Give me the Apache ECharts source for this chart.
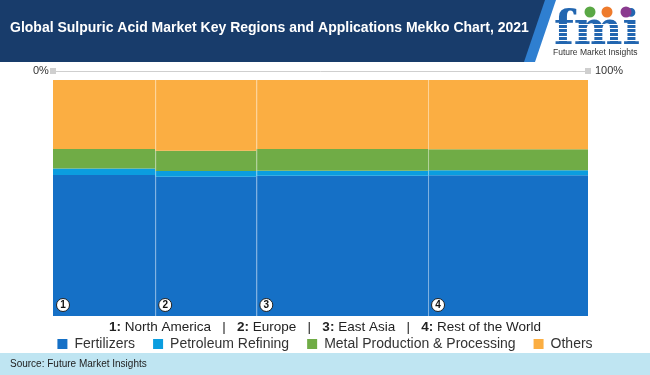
<!DOCTYPE html>
<html>
<head>
<meta charset="utf-8">
<style>
  html, body { margin: 0; padding: 0; background: #fff; }
  #chart { width: 650px; height: 375px; }
</style>
<script src="https://cdn.jsdelivr.net/npm/echarts@6/dist/echarts.min.js"></script>
</head>
<body>
<div id="chart"></div>
<script>
// regions along x (share of market, %)
const regions = ['North America', 'Europe', 'East Asia', 'Rest of the World']
const regionShare = [19.1, 18.9, 32.1, 29.9]

// applications, share inside each region (%), bottom to top
const appNames = ['Fertilizers', 'Petroleum Refining', 'Metal Production & Processing', 'Others']
const fertilizers = [59.7, 59.0, 59.4, 59.6]
const petroleum = [2.8, 2.4, 2.1, 2.2]
const metal = [8.3, 8.6, 9.3, 8.9]
const others = [29.2, 30.0, 29.2, 29.3]
const appColors = ['#1570c6', '#0b9ddf', '#70ac46', '#fbae42']

const appValues = [fertilizers, petroleum, metal, others]

const chartDom = document.getElementById('chart')
const myChart = echarts.init(chartDom)

const FONT = 'Liberation Sans'

// x start of each region column
const xStarts = []
let acc = 0
regionShare.forEach(v => { xStarts.push(acc); acc += v })

// stacked rectangles for each application
const buildData = (idx) => regions.map((r, i) => {
  let y0 = 0
  for (let k = 0; k < idx; k++) y0 += appValues[k][i]
  return [xStarts[i], xStarts[i] + regionShare[i], y0, y0 + appValues[idx][i], i]
})

const renderItem = (params, api) => {
  const x0 = api.value(0)
  const x1 = api.value(1)
  const y0 = api.value(2)
  const y1 = api.value(3)
  const col = api.value(4)
  const tl = api.coord([x0, y1])
  const br = api.coord([x1, y0])
  const children = [{
    type: 'rect',
    shape: { x: tl[0], y: tl[1], width: br[0] - tl[0], height: br[1] - tl[1] },
    style: { fill: api.visual('color') }
  }]
  if (col > 0) {
    children.push({
      type: 'line',
      shape: { x1: tl[0] + 0.5, y1: tl[1], x2: tl[0] + 0.5, y2: br[1] },
      style: { stroke: 'rgba(255,255,255,0.45)', lineWidth: 1 }
    })
  }
  // numbered badge at the bottom of each column
  if (params.seriesIndex === 0) {
    children.push({
      type: 'circle',
      shape: { cx: tl[0] + 10, cy: br[1] - 11, r: 6.5 },
      style: { fill: '#fff', stroke: '#222', lineWidth: 1 }
    })
    children.push({
      type: 'text',
      style: {
        x: tl[0] + 10, y: br[1] - 11, text: String(col + 1),
        align: 'center', verticalAlign: 'middle',
        font: 'bold 10px ' + FONT, fill: '#111'
      }
    })
  }
  return { type: 'group', children }
}

const series = appNames.map((name, idx) => ({
  name,
  type: 'custom',
  renderItem,
  itemStyle: { color: appColors[idx] },
  encode: { x: [0, 1], y: [2, 3] },
  data: buildData(idx),
  silent: true
}))

// region key line
const keyRich = {
  b: { fontWeight: 'bold', fontSize: 13.5, fontFamily: FONT, color: '#222' },
  s: { fontSize: 13.5, fontFamily: FONT, color: '#888' }
}
const keyText = regions.map((r, i) => `{b|${i + 1}:} ${r}`).join('   {s||}   ')

// logo stripes
const stripes = []
for (let y = 24; y <= 44; y += 4) {
  stripes.push({
    type: 'rect', shape: { x: 553, y, width: 92, height: 1 },
    style: { fill: '#fff' }, z: 12
  })
}

const option = {
  animation: false,
  grid: { left: 53, right: 62, top: 80, bottom: 59 },
  xAxis: {
    type: 'value', min: 0, max: 100, interval: 100, position: 'top', offset: 9,
    axisLine: {
      show: true, onZero: false, lineStyle: { color: '#cfcfcf' },
      symbol: ['rect', 'rect'], symbolSize: [6, 6]
    },
    axisTick: { show: false }, axisLabel: { show: false }, splitLine: { show: false },
    name: '100%', nameLocation: 'end', nameGap: 7,
    nameTextStyle: { fontSize: 11, fontFamily: FONT, color: '#333' }
  },
  yAxis: {
    type: 'value', min: 0, max: 100, show: false
  },
  legend: {
    top: 332, left: 'center',
    icon: 'rect', itemWidth: 10, itemHeight: 10, itemGap: 18,
    textStyle: { fontSize: 14, fontFamily: FONT, color: '#333', padding: [0, 0, 0, 2] },
    data: appNames
  },
  series,
  graphic: [
    // header band
    { type: 'polygon', shape: { points: [[0, 0], [552, 0], [531, 62], [0, 62]] }, style: { fill: '#183c6b' }, z: 10 },
    { type: 'polygon', shape: { points: [[545, 0], [556, 0], [535, 62], [524, 62]] }, style: { fill: '#2f7fd0' }, z: 10 },
    {
      type: 'text', left: 10, top: 21, z: 11,
      style: { text: 'Global Sulpuric Acid Market Key Regions and Applications Mekko Chart, 2021', font: 'bold 14px ' + FONT, fill: '#fff' }
    },
    // logo
    {
      type: 'text', left: 554, top: 9, z: 11,
      style: { text: 'fmi', font: 'bold 46px DejaVu Serif', fill: '#2266b0' }
    },
    ...stripes,
    { type: 'circle', shape: { cx: 590, cy: 12, r: 5.5 }, style: { fill: '#5aa845' }, z: 13 },
    { type: 'circle', shape: { cx: 607, cy: 12, r: 5.5 }, style: { fill: '#ee7b2c' }, z: 13 },
    { type: 'circle', shape: { cx: 626, cy: 12, r: 5.5 }, style: { fill: '#8a3b8f' }, z: 13 },
    {
      type: 'text', left: 553, top: 48, z: 11,
      style: { text: 'Future Market Insights', font: '8.5px ' + FONT, fill: '#333' }
    },
    // 0% label at the start of the top axis
    {
      type: 'text', left: 33, top: 65,
      style: { text: '0%', font: '11px ' + FONT, fill: '#333' }
    },
    // region key
    {
      type: 'text', left: 'center', top: 320,
      style: { text: keyText, rich: keyRich, font: '13.5px ' + FONT, fill: '#222' }
    },
    // source bar
    { type: 'rect', shape: { x: 0, y: 353, width: 650, height: 22 }, style: { fill: '#bfe5f2' } },
    {
      type: 'text', left: 10, top: 359,
      style: { text: 'Source: Future Market Insights', font: '10px ' + FONT, fill: '#222' }
    }
  ]
}

myChart.setOption(option)
</script>
</body>
</html>
